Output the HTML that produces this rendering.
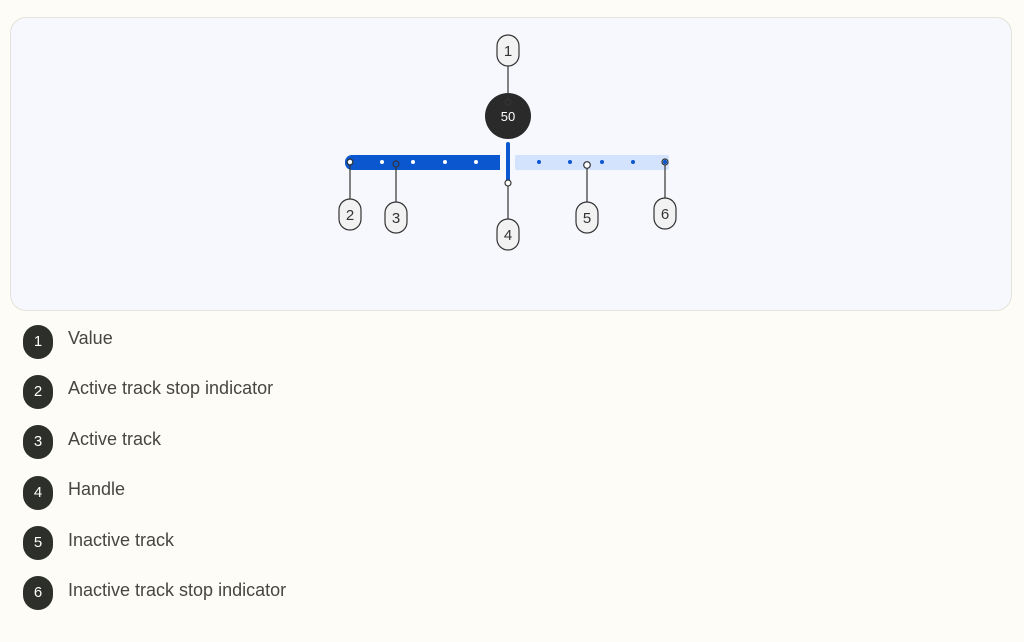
<!DOCTYPE html>
<html><head><style>
body{margin:0;width:1024px;height:642px;background:#fdfcf6;font-family:"Liberation Sans",sans-serif;position:relative;overflow:hidden}
.card{position:absolute;left:10px;top:17px;width:1000px;height:292px;background:#f7f8fd;border:1px solid #e2e3da;border-radius:16px}
.b{position:absolute;left:23px;width:30px;height:34px;border-radius:15px;background:#2d2f2b;color:#fff;font-size:15px;text-align:center;line-height:34px}
.t{position:absolute;left:68px;font-size:18px;color:#46473f}
</style></head><body>
<div class="card"></div>
<svg width="1024" height="642" style="position:absolute;left:0;top:0">
<rect x="345" y="155" width="155" height="15" rx="7" fill="#0b57d0"/>
<rect x="352" y="155" width="148" height="15" fill="#0b57d0"/>
<rect x="515" y="155" width="154" height="15" rx="2" fill="#d3e3fd"/>
<rect x="506" y="142" width="4" height="41" rx="2" fill="#0b57d0"/>
<g fill="#fff"><circle cx="382" cy="162" r="2"/><circle cx="413" cy="162" r="2"/><circle cx="445" cy="162" r="2"/><circle cx="476" cy="162" r="2"/><circle cx="350" cy="162" r="2.2"/></g>
<g fill="#0b57d0"><circle cx="539" cy="162" r="2"/><circle cx="570" cy="162" r="2"/><circle cx="602" cy="162" r="2"/><circle cx="633" cy="162" r="2"/><circle cx="665" cy="162" r="2.2"/></g>
<circle cx="508" cy="116" r="23" fill="#2a2a2a"/>
<text x="508" y="121" font-size="13" fill="#fff" text-anchor="middle" font-family="Liberation Sans">50</text>
<g stroke="#333" stroke-width="1.2" fill="none">
<line x1="508" y1="66" x2="508" y2="101"/><circle cx="508" cy="102" r="3"/>
<line x1="350" y1="165" x2="350" y2="199"/><circle cx="350" cy="162" r="3"/>
<line x1="396" y1="167" x2="396" y2="202"/><circle cx="396" cy="164" r="3"/>
<line x1="508" y1="186" x2="508" y2="219"/><circle cx="508" cy="183" r="3" fill="#fff"/>
<line x1="587" y1="168" x2="587" y2="202"/><circle cx="587" cy="165" r="3.3" fill="#fff"/>
<line x1="665" y1="165" x2="665" y2="198"/><circle cx="665" cy="162" r="3"/>
</g>
<g stroke="#333" stroke-width="1.2" fill="#f2f2f2">
<rect x="497" y="35" width="22" height="31" rx="11"/>
<rect x="339" y="199" width="22" height="31" rx="11"/>
<rect x="385" y="202" width="22" height="31" rx="11"/>
<rect x="497" y="219" width="22" height="31" rx="11"/>
<rect x="576" y="202" width="22" height="31" rx="11"/>
<rect x="654" y="198" width="22" height="31" rx="11"/>
</g>
<g font-size="15" fill="#333" text-anchor="middle" font-family="Liberation Sans">
<text x="508" y="56">1</text><text x="350" y="220">2</text><text x="396" y="223">3</text>
<text x="508" y="240">4</text><text x="587" y="223">5</text><text x="665" y="219">6</text>
</g>
</svg>
<div class="b" style="top:325px">1</div><div class="t" style="top:328px">Value</div>
<div class="b" style="top:375px">2</div><div class="t" style="top:378px">Active track stop indicator</div>
<div class="b" style="top:425px">3</div><div class="t" style="top:429px">Active track</div>
<div class="b" style="top:476px">4</div><div class="t" style="top:479px">Handle</div>
<div class="b" style="top:526px">5</div><div class="t" style="top:530px">Inactive track</div>
<div class="b" style="top:576px">6</div><div class="t" style="top:580px">Inactive track stop indicator</div>
</body></html>
